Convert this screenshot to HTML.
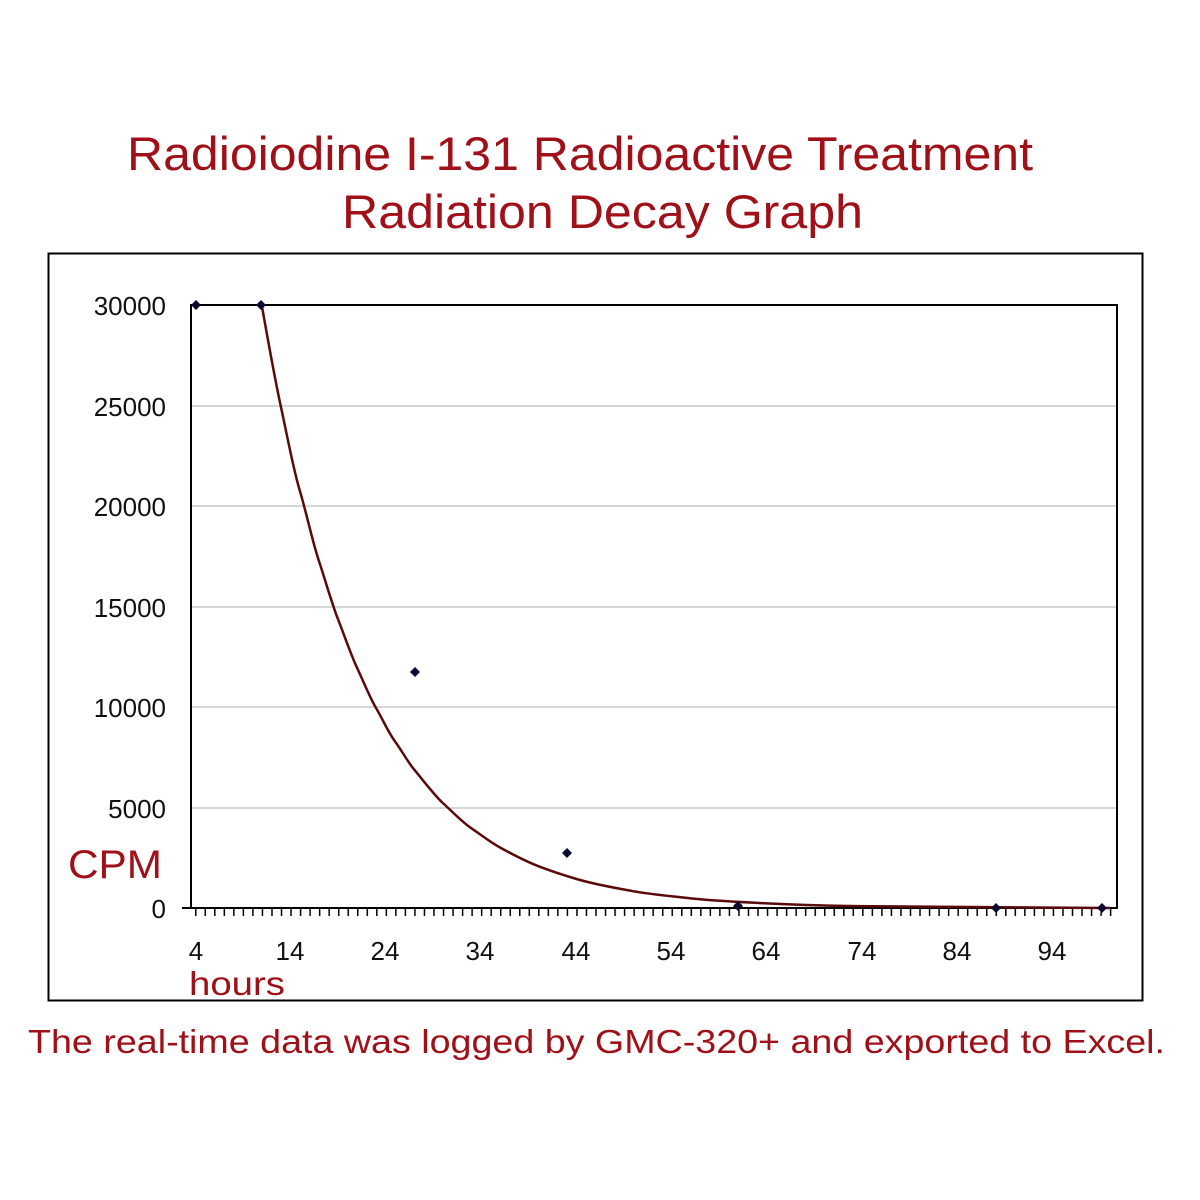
<!DOCTYPE html>
<html><head><style>
body{margin:0;background:#fff;}
svg{display:block;font-family:"Liberation Sans",sans-serif;}
</style></head><body>
<svg width="1200" height="1200" viewBox="0 0 1200 1200">
<defs>
<pattern id="tk" x="195" y="908" width="9.53" height="10" patternUnits="userSpaceOnUse">
<line x1="0.7" y1="0" x2="0.7" y2="8" stroke="#000" stroke-width="1.6"/>
</pattern>
</defs>
<text x="127" y="170" textLength="906" lengthAdjust="spacingAndGlyphs" font-size="47" fill="#a01018">Radioiodine I-131 Radioactive Treatment</text>
<text x="342" y="228" textLength="521" lengthAdjust="spacingAndGlyphs" font-size="47" fill="#a01018">Radiation Decay Graph</text>
<rect x="48.5" y="253.5" width="1094" height="747" fill="none" stroke="#000" stroke-width="2"/>
<g stroke="#c8c8c8" stroke-width="1.5">
<line x1="191" y1="406" x2="1117" y2="406"/>
<line x1="191" y1="506" x2="1117" y2="506"/>
<line x1="191" y1="607" x2="1117" y2="607"/>
<line x1="191" y1="707" x2="1117" y2="707"/>
<line x1="191" y1="808" x2="1117" y2="808"/>
</g>
<rect x="191" y="305" width="926" height="603" fill="none" stroke="#000" stroke-width="2"/>
<line x1="182" y1="908" x2="1117" y2="908" stroke="#000" stroke-width="2"/>
<rect x="194" y="908" width="924" height="8" fill="url(#tk)"/>
<g font-size="26" text-anchor="end" fill="#111">
<text x="166" y="315">30000</text>
<text x="166" y="416">25000</text>
<text x="166" y="516">20000</text>
<text x="166" y="617">15000</text>
<text x="166" y="717">10000</text>
<text x="166" y="818">5000</text>
<text x="166" y="918">0</text>
</g>
<g font-size="26" text-anchor="middle" fill="#111">
<text x="196" y="960">4</text>
<text x="290" y="960">14</text>
<text x="385" y="960">24</text>
<text x="480" y="960">34</text>
<text x="576" y="960">44</text>
<text x="671" y="960">54</text>
<text x="766" y="960">64</text>
<text x="862" y="960">74</text>
<text x="957" y="960">84</text>
<text x="1052" y="960">94</text>
</g>
<text x="68" y="878" textLength="94" lengthAdjust="spacingAndGlyphs" font-size="40" fill="#a01018">CPM</text>
<text x="189" y="995" textLength="96" lengthAdjust="spacingAndGlyphs" font-size="33" fill="#a01018">hours</text>
<path d="M261.7,305 C268,340 274,375 280.8,406.3 S293,468 299.8,490.7 S312,540 318.9,560.9 S332,604 338,619.2 S351,655 357,667.7 S370,698 376.1,708.1 S388,732 395.2,741.7 S407,761 414.2,769.6 S435,796 442.8,803 S462,822 471.4,828.3 S490,842 500,847.5 S525,861 538.4,866.2 S563,875 576.5,879 S615,888 633.7,891.3 S670,896 690.9,898.4 S740,902 766.8,903.4 S840,906 871.6,906.3 L1110,908" fill="none" stroke="#5a0a0a" stroke-width="2.5"/>
<g fill="#0a0a30">
<path d="M196,300 l5,5 -5,5 -5,-5z"/>
<path d="M261,300 l5,5 -5,5 -5,-5z"/>
<path d="M415,667 l5,5 -5,5 -5,-5z"/>
<path d="M567,848 l5,5 -5,5 -5,-5z"/>
<path d="M738,901 l5,5 -5,5 -5,-5z"/>
<path d="M996,903 l5,5 -5,5 -5,-5z"/>
<path d="M1102,903 l5,5 -5,5 -5,-5z"/>
</g>
<text x="28" y="1053" textLength="1137" lengthAdjust="spacingAndGlyphs" font-size="33" fill="#a01018">The real-time data was logged by GMC-320+ and exported to Excel.</text>
</svg>
</body></html>
